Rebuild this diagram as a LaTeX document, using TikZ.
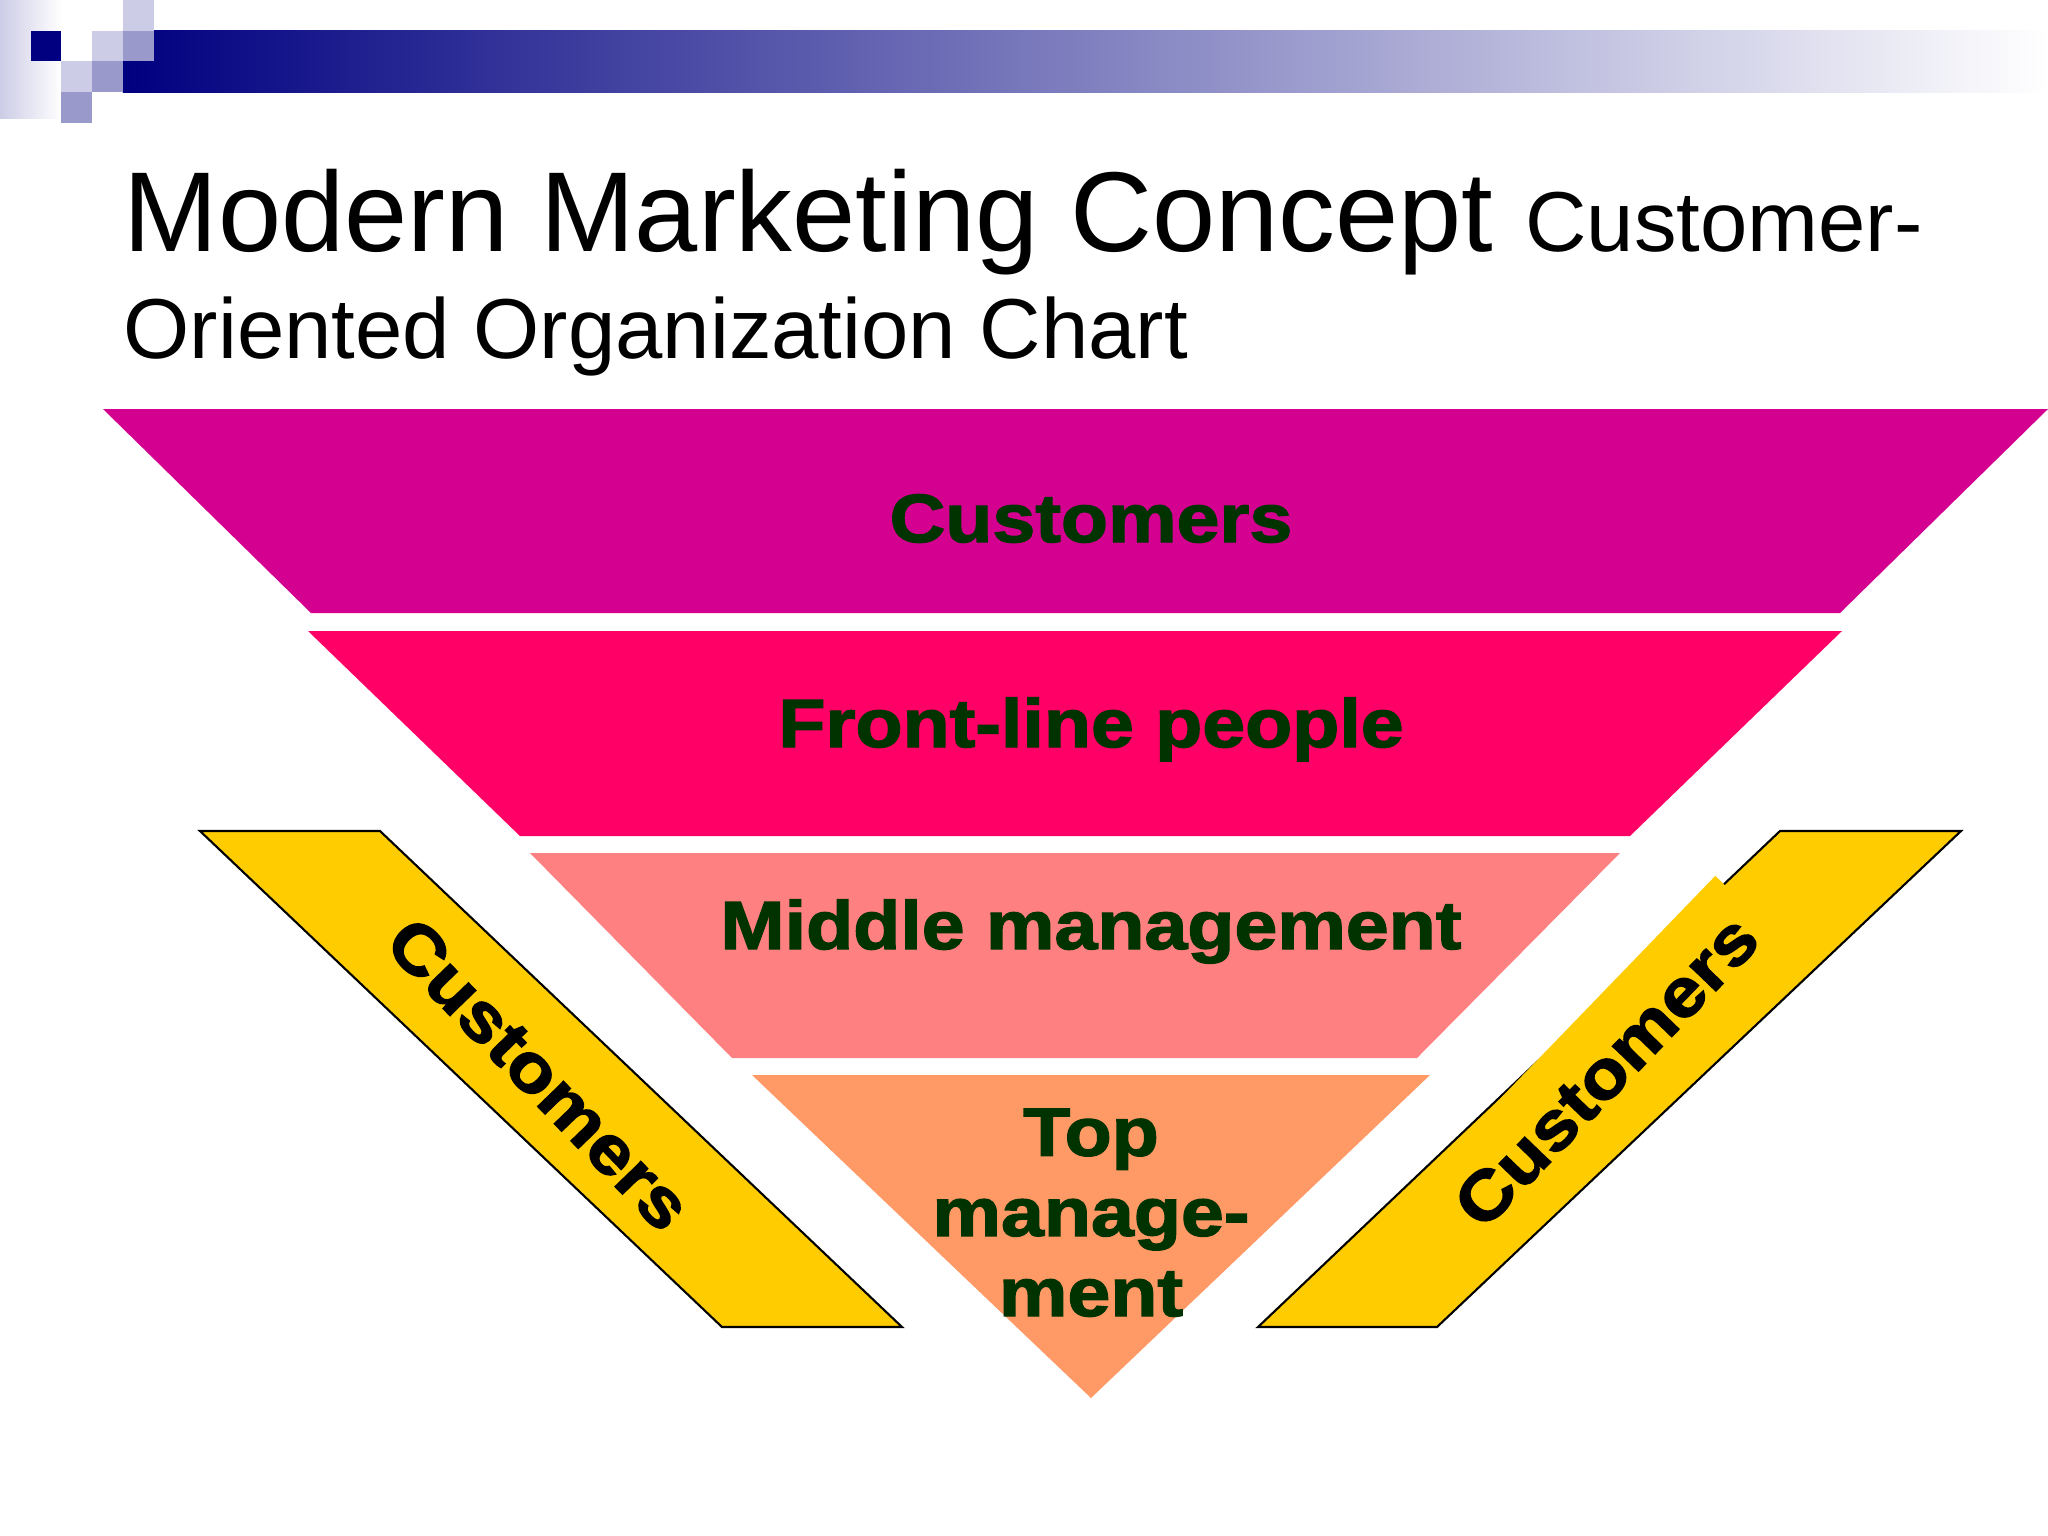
\documentclass[tikz,border=0pt]{standalone}
\usepackage{fontspec}
\setmainfont{Liberation Sans}
\newfontfamily\heavyfont[FakeBold=2,FakeStretch=1.13]{Liberation Sans Bold}
\usetikzlibrary{positioning}
\definecolor{navy}{RGB}{0,0,128}
\definecolor{lavlight}{RGB}{204,204,230}
\definecolor{lavmid}{RGB}{153,153,204}
\definecolor{custband}{RGB}{212,0,143}
\definecolor{frontband}{RGB}{255,0,102}
\definecolor{midband}{RGB}{255,128,128}
\definecolor{topband}{RGB}{255,153,102}
\definecolor{sideyellow}{RGB}{255,204,0}
\definecolor{labelgreen}{RGB}{0,51,0}
\newcommand\bandfont{\heavyfont\fontsize{19.4}{22.8}\selectfont}
\tikzset{
  bandtext/.style ={anchor=base,inner sep=0pt,text=labelgreen,font=\bandfont},
  sidebox/.style  ={fill=sideyellow,draw=black,line width=0.6pt},
  sidetext/.style ={inner sep=3pt,text=black,font=\bandfont},
  titletext/.style={anchor=base west,inner sep=0pt},
}

\begin{document}
\begin{tikzpicture}[x=0.01cm,y=-0.01cm]
  \useasboundingbox (0,0) rectangle (2048,1536);
  % header bar and squares
  \shade[left color=lavlight,right color=white] (0,0) rectangle (61,118);
  \shade[left color=navy,right color=white] (122.8,30.7) rectangle (2048,92.1);
  \foreach \c/\r/\col in {1/1/navy,3/1/lavlight,4/1/lavmid,4/0/lavlight,2/2/lavlight,3/2/lavmid,2/3/lavmid}
     \fill[\col] (\c*30.7,\r*30.7) rectangle ++(30.7,30.7);
  % title
  \node[titletext,font=\fontsize{32.3}{39}\selectfont] (title) at (123,251)
     {Modern Marketing Concept {\fontsize{24.2}{29}\selectfont Customer-}};
  \node[titletext,font=\fontsize{24.2}{29}\selectfont] (subtitle) at (123,358)
     {Oriented Organization Chart};
  % inverted pyramid
  \foreach \xa/\xb/\xc/\xd/\ya/\yb/\col in {103/2048/1840/311/409/613/custband,
       308/1842/1630/520/631/836/frontband, 530/1620/1417/732/853/1058/midband}
     \fill[\col] (\xa,\ya) -- (\xb,\ya) -- (\xc,\yb) -- (\xd,\yb) -- cycle;
  \fill[topband] (752,1075) -- (1430,1075) -- (1091,1398) -- cycle;
  \node[bandtext] (cust) at (1091,542) {Customers};
  \node[bandtext] (front) at (1091,747) {Front-line people};
  \node[bandtext] (middle) at (1091,949) {Middle management};
  \node[bandtext,align=center] (top) at (1091,1316) {Top\\manage-\\ment};
  % customers on both sides
  \draw[sidebox] (200,831) -- (380,831) -- (902,1327) -- (722,1327) -- cycle;
  \draw[sidebox] (1780,831) -- (1961,831) -- (1437,1327) -- (1258,1327) -- cycle;
  \node[sidetext,rotate=-46] (leftcust) at (539,1074) {Customers};
  \node[sidetext,fill=sideyellow,rotate=46,minimum width=123pt,minimum height=32.4pt]
     (rightcust) at (1606,1071) {Customers};
\end{tikzpicture}
\end{document}
